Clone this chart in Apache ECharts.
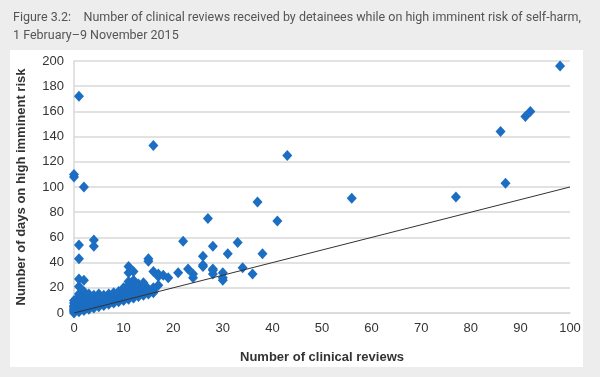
<!DOCTYPE html>
<html>
<head>
<meta charset="utf-8">
<script src="https://cdn.jsdelivr.net/npm/echarts@6/dist/echarts.min.js"></script>
<style>
  html, body { margin: 0; padding: 0; background: #ededed; }
  #chart { width: 600px; height: 377px; }
</style>
</head>
<body>
<div id="chart"></div>
<script>
// x = clinical reviews, y = days on high imminent risk
const clusterX = [
  0,0,0,0,0,0,0,0,0,
  1,1,1,1,1,1,1,1,1,1,1,1,
  2,2,2,2,2,2,2,2,2,2,2,
  3,3,3,3,3,3,3,3,3,3,
  4,4,4,4,4,4,4,4,4,
  5,5,5,5,5,5,5,5,5,
  6,6,6,6,6,6,6,6,
  7,7,7,7,7,7,7,7,
  8,8,8,8,8,8,8,8,
  9,9,9,9,9,9,9,9,
  10,10,10,10,10,10,10,10,10,
  11,11,11,11,11,11,11,11,11,11,
  12,12,12,12,12,12,12,12,
  13,13,13,13,13,13,13,
  14,14,14,14,14,14,14,
  15,15,15,15,
  16,16,16
];
const clusterY = [
  0,1,2,3,4,5,6,8,10,
  1,2,3,4,5,6,7,8,9,11,13,15,
  2,3,4,5,6,7,8,10,12,14,17,
  3,4,5,6,7,8,9,11,13,15,
  4,5,6,7,8,9,10,12,14,
  5,6,7,8,9,10,11,13,15,
  6,7,8,9,10,11,12,14,
  7,8,9,10,11,12,13,15,
  8,9,10,11,12,13,14,16,
  9,10,11,12,13,14,15,17,
  10,11,12,13,14,15,16,18,20,
  11,12,13,14,15,16,18,20,22,25,
  12,13,14,15,17,19,21,26,
  13,14,15,16,18,20,23,
  14,15,16,17,19,21,23,
  15,16,17,19,
  16,18,20
];
const outlierX = [0, 0, 1, 1, 1, 1, 1, 2, 2, 4, 4, 11, 11, 12, 14, 15, 15, 16, 16, 17, 17, 18, 19, 17,
  21, 22, 23, 24, 24, 26, 26, 26, 27, 28, 28, 28, 28, 30, 30, 30, 31, 33, 34, 36,
  37, 38, 41, 43, 56, 77, 86, 87, 91, 92, 98];
const outlierY = [108, 110, 172, 54, 43, 21, 27, 100, 26, 53, 58, 32, 37, 33, 24, 41, 43, 133, 33, 31, 29, 30, 28, 22,
  32, 57, 35, 28, 31, 37, 45, 38, 75, 53, 34, 31, 35, 26, 32, 28, 47, 56, 36, 31,
  88, 47, 73, 125, 91, 92, 144, 103, 156, 160, 196];
const lineX = [0, 100];
const lineY = [0, 100];

const xTicks = { min: 0, max: 100, step: 10 };
const yTicks = { min: 0, max: 200, step: 20 };

const points = clusterX.map((x, i) => [x, clusterY[i]])
  .concat(outlierX.map((x, i) => [x, outlierY[i]]));

const chart = echarts.init(document.getElementById('chart'));
chart.setOption({
  backgroundColor: '#ededed',
  animation: false,
  textStyle: { fontFamily: 'Liberation Sans, Arial, sans-serif' },
  graphic: [{
    type: 'rect',
    shape: { x: 10, y: 50, width: 573, height: 317 },
    style: { fill: '#ffffff' },
    z: -10
  }],
  title: {
    text: 'Figure 3.2:    Number of clinical reviews received by detainees while on high imminent risk of self-harm,\n1 February\u20139 November 2015',
    left: 8,
    top: 4,
    textStyle: {
      fontFamily: 'Roboto, sans-serif',
      fontWeight: 'normal',
      fontSize: 12.5,
      color: '#555555',
      lineHeight: 18
    }
  },
  grid: { left: 74, right: 30, top: 61, bottom: 64 },
  xAxis: {
    type: 'value',
    min: xTicks.min, max: xTicks.max, interval: xTicks.step,
    name: 'Number of clinical reviews',
    nameLocation: 'middle',
    nameGap: 38,
    nameTextStyle: { fontWeight: 'bold', fontSize: 13, color: '#333' },
    axisLine: { show: true, lineStyle: { color: '#d9d9d9', width: 1.5 } },
    axisTick: { show: false },
    axisLabel: { color: '#333', fontSize: 13, margin: 9 },
    splitLine: { show: false }
  },
  yAxis: {
    type: 'value',
    min: yTicks.min, max: yTicks.max, interval: yTicks.step,
    name: 'Number of days on high imminent risk',
    nameLocation: 'middle',
    nameGap: 46,
    nameTextStyle: { fontWeight: 'bold', fontSize: 13, color: '#333' },
    axisLine: { show: true, lineStyle: { color: '#d9d9d9', width: 1.5 } },
    axisTick: { show: false },
    axisLabel: { color: '#333', fontSize: 13, margin: 10 },
    splitLine: { show: true, lineStyle: { color: '#d9d9d9', width: 1.5 } }
  },
  series: [
    {
      type: 'scatter',
      symbol: 'diamond',
      symbolSize: [10, 11],
      itemStyle: { color: '#1b6ec2', opacity: 1 },
      data: points,
      z: 2
    },
    {
      type: 'line',
      data: lineX.map((x, i) => [x, lineY[i]]),
      showSymbol: false,
      lineStyle: { color: '#333', width: 1 },
      z: 3
    }
  ]
});
</script>
</body>
</html>
